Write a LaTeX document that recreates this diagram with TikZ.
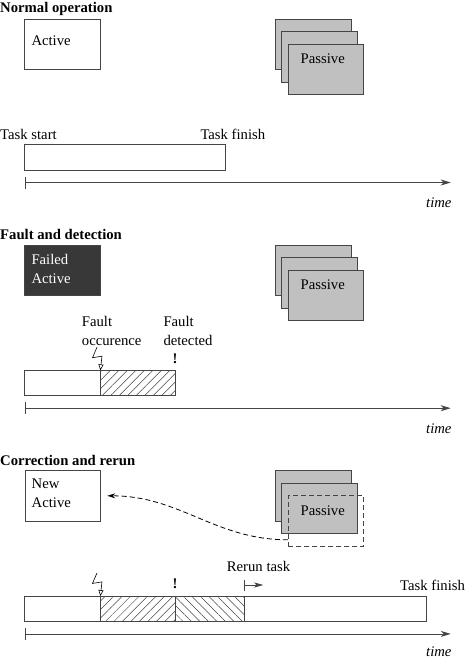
\documentclass[tikz,border=0pt]{standalone}
\usepackage{fontspec}
\setmainfont{Liberation Serif}
\usepackage{tikz}
\usetikzlibrary{arrows.meta,calc,patterns.meta,positioning}
\definecolor{linegray}{HTML}{454545}
\definecolor{passivegray}{HTML}{C0C0C0}
\definecolor{failgray}{HTML}{383838}

\begin{document}
\begin{tikzpicture}[
    x=1pt, y=-1pt,
    every node/.style={inner sep=0pt, font=\fontsize{14.7}{18.5}\selectfont},
    procbox/.style={rectangle, draw=linegray, line width=0.8pt, minimum width=75.6pt, minimum height=50.4pt},
    passivebox/.style={procbox, fill=passivegray},
    txt/.style={anchor=base west, align=left},
    paneltitle/.style={anchor=base west, font=\fontsize{14.7}{18.5}\selectfont\bfseries},
    taskbar/.style={draw=linegray, line width=0.8pt},
    hatchfwd/.style={taskbar, pattern={Lines[angle=45,distance=6pt,line width=0.5pt]}, pattern color=linegray},
    hatchbwd/.style={taskbar, pattern={Lines[angle=-45,distance=6pt,line width=0.5pt]}, pattern color=linegray},
    timeaxis/.style={draw=linegray, line width=0.8pt, {Bar[width=12pt]}-{Stealth[length=10pt,width=6pt,inset=3pt]}},
    bolt/.style={draw=black, line width=0.6pt, -{Triangle[open,length=6pt,width=5pt]}},
    detect/.style={anchor=base, font=\fontsize{14.7}{18.5}\selectfont\bfseries},
    timelabel/.style={anchor=base east, font=\fontsize{14.7}{18.5}\selectfont\itshape}
]
\useasboundingbox (0,0) rectangle (474,659);

% normal operation
\node[paneltitle] (title1) at (0,12.7) {Normal operation};
\node[procbox] (act1) at (62.5,44.5) {};
\node[txt] (act1txt) at ([shift={(7,26.4)}]act1.north west) {Active};
\foreach \i in {0,1,2}
    \node[passivebox] (pas1\i) at (313.3+6.35*\i,44.5+12.5*\i) {};
\node[txt] (pas1txt) at ([shift={(12.7,19.7)}]pas12.north west) {Passive};
\node[txt] (start1) at (0,139.3) {Task start};
\node[txt] (finish1) at (200.3,139.3) {Task finish};
\draw[taskbar] (24.7,144.7) rectangle (225.7,170);
\coordinate (ax1a) at (24.7,182.5);
\coordinate (ax1b) at (450.7,182.5);
\draw[timeaxis] (ax1a) -- (ax1b);
\node[timelabel] (time1) at (451.7,207.3) {time};

% fault and detection
\begin{scope}[shift={(0,225.7)}]
\node[paneltitle] (title2) at (0,13.3) {Fault and detection};
\node[procbox, fill=failgray] (act2) at (62.5,44.5) {};
\node[txt, text=white] (act2txt) at ([shift={(7,38.8)}]act2.north west) {Failed\\Active};
\foreach \i in {0,1,2}
    \node[passivebox] (pas2\i) at (313.3+6.35*\i,44.5+12.5*\i) {};
\node[txt] (pas2txt) at ([shift={(12.7,19.7)}]pas22.north west) {Passive};
\node[txt] (occur2) at (81.7,119.4) {Fault\\occurence};
\node[txt] (detect2) at (163.3,119.4) {Fault\\detected};
\draw[taskbar] (24.7,144.7) rectangle (100.3,170);
\draw[hatchfwd] (100.3,144.7) rectangle (175.7,170);
\coordinate (fault2) at (100.3,144.7);
\draw[bolt] (97,121.5) -- (92.5,132) -- (102,130.5) -- (fault2);
\node[detect] (bang2) at (175,137.3) {!};
\coordinate (ax2a) at (24.7,182.5);
\coordinate (ax2b) at (450.7,182.5);
\draw[timeaxis] (ax2a) -- (ax2b);
\node[timelabel] (time2) at (451.7,207.3) {time};
\end{scope}

% correction and rerun
\begin{scope}[shift={(0,451.4)}]
\node[paneltitle] (title3) at (0,14.3) {Correction and rerun};
\node[procbox] (act3) at (62.7,44.4) {};
\node[txt] (act3txt) at ([shift={(7,37.1)}]act3.north west) {New\\Active};
\foreach \i in {0,1}
    \node[passivebox] (pas3\i) at (313.3+6.35*\i,44.5+12.5*\i) {};
\node[procbox, dash pattern=on 5pt off 3pt] (pas32) at (326,69.5) {};
\node[txt] (pas3txt) at ([shift={(12.7,19.7)}]pas32.north west) {Passive};
\draw[line width=0.8pt, dash pattern=on 5pt off 3pt, -{Stealth[length=8pt,width=5pt]}]
    ([yshift=6.7pt]pas32.south west) to[out=180,in=0] ([xshift=6.4pt]act3.east);
\draw[taskbar] (24.7,144.7) rectangle (426,170);
\draw[hatchfwd] (100.3,144.7) rectangle (175.3,170);
\draw[hatchbwd] (175.3,144.7) rectangle (244.3,170);
\coordinate (fault3) at (100.3,144.7);
\draw[bolt] (97,121.5) -- (92.5,132) -- (102,130.5) -- (fault3);
\node[detect] (bang3) at (175,137.3) {!};
\node[txt] (rerun3) at (226.7,120.3) {Rerun task};
\coordinate (rerun3a) at (244.3,133.6);
\coordinate (rerun3b) at (263.3,133.6);
\draw[linegray, line width=0.8pt, {Bar[width=11pt]}-{Stealth[length=9pt,width=5pt,inset=2pt]}] (rerun3a) -- (rerun3b);
\node[txt] (finish3) at (400,138.6) {Task finish};
\coordinate (ax3a) at (24.7,182.5);
\coordinate (ax3b) at (450.7,182.5);
\draw[timeaxis] (ax3a) -- (ax3b);
\node[timelabel] (time3) at (451.7,204.8) {time};
\end{scope}
\end{tikzpicture}
\end{document}
